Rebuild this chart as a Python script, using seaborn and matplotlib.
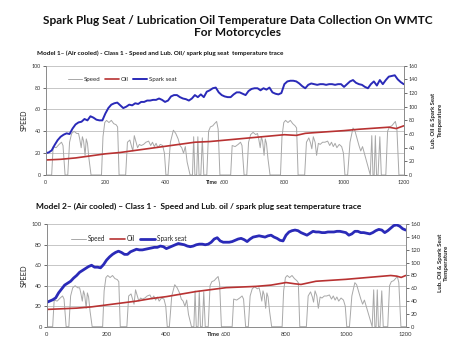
import matplotlib
matplotlib.use("Agg")
import matplotlib.pyplot as plt
import seaborn as sns
import pandas as pd

# ---------------- data ----------------
TITLE = "Spark Plug Seat / Lubrication Oil Temperature Data Collection On WMTC\nFor Motorcycles"
SUB1 = "Model 1\u2013 (Air cooled) - Class 1 - Speed and Lub. Oil/ spark plug seat  temperature trace"
SUB2 = "Model 2\u2013 (Air cooled) \u2013 Class 1 -  Speed and Lub. oil / spark plug seat temperature trace"
SERIES = ["Speed", "Oil", "Spark seat"]
X_TICKS = [0, 200, 400, 600, 800, 1000, 1200]
LEFT_TICKS = [0, 20, 40, 60, 80, 100]
RIGHT_TICKS = [0, 20, 40, 60, 80, 100, 120, 140, 160]

# WMTC class 1 vehicle speed (km/h): (time s, speed)
speed_points = [
    (0, 0), (20, 0), (25, 26), (35, 25), (45, 28), (53, 30), (58, 27), (65, 0), (74, 0), (80, 30), (87, 38),
    (95, 40), (104, 38), (110, 38), (114, 33), (119, 25), (123, 35), (127, 31), (132, 18), (136, 33), (140, 29),
    (145, 15), (152, 0),
    (187, 0), (192, 35), (198, 48), (204, 50), (212, 48), (220, 50), (228, 47), (236, 46), (241, 44), (246, 0),
    (268, 0), (274, 30), (282, 32), (288, 26), (292, 22), (297, 36), (303, 30), (308, 25), (314, 28), (320, 27),
    (328, 28), (336, 30), (345, 31), (352, 27), (358, 30), (364, 26), (370, 29), (376, 25), (384, 28), (392, 27),
    (398, 20), (403, 0),
    (410, 0), (418, 30), (428, 41), (436, 38), (444, 33), (450, 27), (456, 25), (462, 20), (468, 26), (474, 12),
    (484, 0), (492, 0), (496, 35), (500, 0), (506, 0), (510, 35), (514, 0), (520, 0), (525, 34), (530, 0),
    (540, 0), (546, 40), (552, 44), (560, 45), (566, 47), (573, 49), (578, 42), (584, 0),
    (620, 0), (625, 27), (635, 26), (645, 28), (653, 30), (658, 27), (665, 0), (674, 0), (680, 30), (687, 37),
    (695, 39), (704, 37), (710, 38), (714, 33), (719, 25), (723, 35), (727, 31), (732, 18), (736, 33), (740, 29),
    (745, 15), (752, 0),
    (787, 0), (792, 35), (798, 48), (804, 50), (812, 48), (820, 50), (828, 47), (836, 45), (841, 43), (846, 0),
    (868, 0), (874, 30), (882, 34), (888, 29), (892, 24), (897, 35), (903, 30), (908, 18), (914, 29), (920, 28),
    (928, 30), (936, 30), (945, 31), (952, 27), (958, 30), (964, 26), (970, 29), (976, 25), (984, 28), (992, 26),
    (998, 20), (1003, 0),
    (1012, 0), (1020, 30), (1030, 43), (1036, 41), (1044, 33), (1050, 27), (1056, 22), (1062, 26), (1068, 20),
    (1076, 12), (1088, 0), (1093, 36), (1097, 0), (1101, 0), (1105, 36), (1109, 0), (1114, 0), (1120, 35),
    (1125, 0), (1140, 0), (1146, 40), (1152, 44), (1160, 45), (1166, 47), (1172, 49), (1177, 43), (1184, 0),
    (1200, 0),
]
speed_t = [p[0] for p in speed_points]
speed_v = [p[1] for p in speed_points]

# Model 1 temperatures (deg C)
m1_spark_t = list(range(0, 1201, 10))
m1_spark_v = [32, 33, 36, 44, 51, 56, 59, 61, 60, 68, 74, 77, 78, 82, 80, 86, 84, 81, 80, 80,
              90, 98, 103, 105, 106, 102, 98, 100, 103, 102, 105, 104, 107, 107, 109, 109, 110, 110, 112, 110,
              107, 109, 115, 117, 117, 114, 112, 111, 109, 112, 117, 114, 118, 114, 122, 124, 127, 128, 121, 117,
              115, 114, 114, 118, 121, 121, 119, 117, 123, 126, 127, 127, 124, 127, 125, 128, 121, 119, 118, 120,
              133, 137, 138, 138, 137, 134, 130, 127, 132, 134, 133, 132, 133, 133, 132, 133, 133, 132, 133, 133,
              129, 133, 137, 139, 135, 133, 132, 129, 127, 133, 137, 131, 139, 133, 139, 144, 145, 146, 140, 136,
              133]
m1_oil_t = [0, 50, 100, 150, 200, 250, 300, 350, 400, 450, 500, 550, 600, 650, 700, 750, 800, 840, 870, 900,
            950, 1000, 1050, 1100, 1150, 1175, 1200]
m1_oil_v = [22, 23, 25, 28, 31, 33, 36, 39, 42, 45, 48, 49, 51, 53, 55, 57, 59, 58, 61, 62,
            63.5, 65, 67, 68.5, 70, 68, 72]

# Model 2 temperatures (deg C)
m2_spark_t = list(range(0, 1201, 10))
m2_spark_v = [38, 40, 42, 45, 53, 59, 65, 68, 71, 76, 80, 85, 88, 91, 94, 96, 93, 93, 92, 97,
              104, 109, 113, 116, 118, 116, 113, 113, 117, 119, 121, 120, 120, 121, 122, 123, 124, 124, 126, 125,
              122, 124, 126, 128, 130, 129, 128, 126, 125, 126, 128, 129, 129, 128, 129, 132, 137, 139, 134, 132,
              132, 132, 133, 135, 137, 138, 136, 133, 137, 140, 141, 142, 141, 140, 142, 143, 140, 138, 135, 134,
              143, 148, 150, 151, 150, 147, 145, 143, 146, 149, 148, 148, 147, 147, 148, 148, 148, 149, 149, 148,
              147, 143, 145, 149, 149, 147, 147, 146, 145, 147, 150, 152, 151, 147, 150, 154, 158, 159, 157, 153,
              151]
m2_oil_t = [0, 50, 100, 150, 200, 250, 300, 350, 400, 450, 500, 550, 600, 650, 700, 750, 800, 830, 850, 870,
            900, 950, 1000, 1050, 1100, 1150, 1170, 1185, 1200]
m2_oil_v = [27, 28, 29, 31, 34, 37, 40, 44, 47, 51, 55, 58, 61, 62, 63, 65, 69, 67, 66, 68,
            71, 72.5, 74, 76, 78, 80, 79, 77, 80]

# ---------------- style ----------------
sns.set_theme(style="white")
plt.rcParams["font.family"] = ["Lato", "DejaVu Sans"]

C_SPEED = "#a8a8a8"
C_OIL = "#b83232"
C_SPARK = "#2a2ab8"
C_GRID = "#bdbdbd"
C_AXIS = "#8c8c8c"

fig = plt.figure(figsize=(4.74, 3.55), dpi=100)
fig.patch.set_facecolor("white")

fig.text(0.5015, 0.925, TITLE, ha="center", va="center", fontsize=8.6, fontweight="bold",
         linespacing=1.12, color="#111111")
fig.text(0.078, 0.851, SUB1, ha="left", va="center", fontsize=4.6, fontweight="bold", color="#111111")
fig.text(0.076, 0.420, SUB2, ha="left", va="center", fontsize=6.0, fontweight="bold", color="#111111")


def make_chart(rect, spark_t, spark_v, oil_t, oil_v, spark_lw, leg_anchor, fs, rlabel_x, rlabel_y):
    ax = fig.add_axes(rect)
    ax2 = ax.twinx()
    df_speed = pd.DataFrame({"t": speed_t, "v": speed_v})
    df_spark = pd.DataFrame({"t": spark_t, "v": spark_v})
    df_oil = pd.DataFrame({"t": oil_t, "v": oil_v})
    sns.lineplot(data=df_speed, x="t", y="v", ax=ax, color=C_SPEED, lw=0.7, legend=False)
    sns.lineplot(data=df_oil, x="t", y="v", ax=ax2, color=C_OIL, lw=1.2, legend=False)
    sns.lineplot(data=df_spark, x="t", y="v", ax=ax2, color=C_SPARK, lw=spark_lw, legend=False)

    ax.set_xlim(0, 1200)
    ax.set_ylim(0, 100)
    ax2.set_ylim(0, 160)
    ax.set_xticks(X_TICKS)
    ax.set_yticks(LEFT_TICKS)
    ax2.set_yticks(RIGHT_TICKS)
    ax.set_xlabel("")
    ax.set_ylabel("SPEED", fontsize=fs + 1.2, labelpad=3, color="#222222")
    ax2.set_ylabel("")
    ax.grid(axis="y", color=C_GRID, lw=0.6)
    ax.grid(axis="x", visible=False)
    ax.set_axisbelow(True)
    for a in (ax, ax2):
        a.tick_params(labelsize=fs, length=2, width=0.5, pad=1.5, colors="#333333")
        a.spines["top"].set_visible(False)
        for s in ("left", "right", "bottom"):
            a.spines[s].set_color(C_AXIS)
            a.spines[s].set_linewidth(0.6)
    ax.annotate("Time", xy=(578, 0), xycoords=("data", "axes fraction"), xytext=(0, -3.6),
                textcoords="offset points", ha="right", va="top", fontsize=fs, fontweight="bold",
                color="#222222")
    ax2.text(rlabel_x, rlabel_y, "Lub. Oil & Spark Seat\nTemperature", transform=ax2.transAxes,
             rotation=90, ha="center", va="center", fontsize=fs + 0.3, fontweight="bold",
             linespacing=1.3, color="#222222")
    handles = [ax.get_lines()[0], ax2.get_lines()[0], ax2.get_lines()[1]]
    ax2.legend(handles, SERIES, loc="center left", bbox_to_anchor=leg_anchor, ncol=3, frameon=False,
               fontsize=fs + 0.5, handlelength=2.3, handletextpad=0.3, columnspacing=0.7,
               borderaxespad=0)
    return ax, ax2


make_chart([0.0964, 0.507, 0.7553, 0.3079], m1_spark_t, m1_spark_v, m1_oil_t, m1_oil_v, 1.4,
           (0.055, 0.875), 3.9, 1.093, 0.5)
make_chart([0.0985, 0.0797, 0.7574, 0.2885], m2_spark_t, m2_spark_v, m2_oil_t, m2_oil_v, 2.0,
           (0.06, 0.86), 4.2, 1.105, 0.62)

fig.savefig("out.png", dpi=100, facecolor="white")
